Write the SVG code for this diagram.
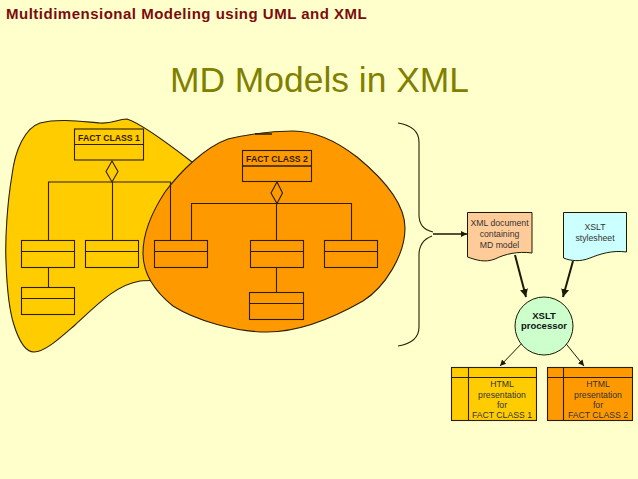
<svg xmlns="http://www.w3.org/2000/svg" width="638" height="479" viewBox="0 0 638 479">
<defs>
<marker id="a" markerUnits="userSpaceOnUse" markerWidth="9" markerHeight="9" refX="8" refY="4" orient="auto"><path d="M0 0L8 4L0 8Z" fill="#1a1a00"/></marker>
<marker id="b" markerUnits="userSpaceOnUse" markerWidth="7" markerHeight="7" refX="6" refY="3" orient="auto"><path d="M0 0L6 3L0 6Z" fill="#1a1a00"/></marker>
</defs>
<style>
text{font-family:"Liberation Sans",Arial,sans-serif}
.l{fill:none;stroke:#2a1f00;stroke-width:1.100}
.y{fill:#FFCC00;stroke:#2a1f00;stroke-width:1.100}
.o{fill:#FF9900;stroke:#2a1f00;stroke-width:1.100}
.t{font-size:8.700px;fill:#333;text-anchor:middle}
.h{font-size:8.700px;font-weight:bold;fill:#331a00;text-anchor:middle}
.p{font-size:9.500px;font-weight:bold;fill:#111;text-anchor:middle}
</style>
<rect width="638" height="479" fill="#FFFFCC"/>
<text x="6" y="19" font-size="15" letter-spacing="0.5" font-weight="bold" fill="#7a0c0c">Multidimensional Modeling using UML and XML</text>
<text x="170" y="92" font-size="35.400" fill="#808000">MD Models in XML</text>
<g id="fact-class-1-region">
<path class="y" d="M127 119C117 119 113 124 100 123C85 122 60 118 40 123C25 128 15 150 12 175C7 205 5 240 6 262C7 290 9 310 14 325C19 341 26 352 34 352C45 352 60 338 75 325C95 307 115 285 140 281C150 280 160 280 200 280L240 162L192 162C170 145 140 123 127 119Z"/>
</g>
<g id="fact-class-2-region">
<path class="o" d="M293 131C270 131 245 135 228 139C205 147 180 172 165 192C150 215 143 235 143 253C143 272 153 290 173 306C195 320 235 332 267 332C300 332 335 317 363 301C385 287 405 255 405 228C405 205 385 180 357 157C335 140 315 131 293 131Z"/>
<path d="M255 134L272 134" fill="none" stroke="#2a1f00" stroke-width="1.500"/>
</g>
<g id="connectors">
<path class="l" d="M112.500 182V240M48.500 240V182H170.500V240M48.500 267V288"/>
<path class="l" d="M276.500 203.500V240.500M191.500 240.500V203.500H351.500V240.500M276.500 267.500V292.500"/>
<path class="l" d="M398 123C410 125 419 130 419 142V215C419 225 424 230 433 232"/>
<path class="l" d="M398 346C410 344 419 339 419 327V255C419 245 424 239 432 236"/>
<path fill="none" stroke="#1a1a00" stroke-width="1.500" marker-end="url(#b)" d="M433 234H467"/>
<path fill="none" stroke="#1a1a00" stroke-width="2" marker-end="url(#a)" d="M515 255L526 297"/>
<path fill="none" stroke="#1a1a00" stroke-width="2" marker-end="url(#a)" d="M573 261L563 297"/>
<path fill="none" stroke="#1a1a00" stroke-width="1" marker-end="url(#b)" d="M525 340L500 366"/>
<path fill="none" stroke="#1a1a00" stroke-width="1" marker-end="url(#b)" d="M563 340L584 366"/>
</g>
<g id="fact-class-1">
<rect class="l" x="74.500" y="129" width="69" height="31"/><path class="l" d="M74.500 144.500H143.500"/>
<path class="y" d="M112 161L118 171.500L112 182L106 171.500Z"/>
<text class="h" x="109" y="141">FACT CLASS 1</text>
</g>
<g id="fact-class-2">
<rect class="l" x="242.500" y="150.500" width="69" height="31"/><path class="l" style="stroke-width:1.500" d="M242.500 166H311.500"/>
<path class="o" d="M277 182L282.500 193L277 203.500L271 193Z"/>
<text class="h" x="277" y="162">FACT CLASS 2</text>
</g>
<g id="c1-a"><rect class="l" x="21.500" y="240.500" width="53" height="27"/><path class="l" d="M21.500 251.500H74.500"/></g>
<g id="c1-b"><rect class="l" x="85.500" y="240.500" width="53" height="27"/><path class="l" d="M85.500 251.500H138.500"/></g>
<g id="shared"><rect class="l" x="154.500" y="240.500" width="53" height="27"/><path class="l" d="M154.500 251.500H207.500"/></g>
<g id="c1-c"><rect class="l" x="21.500" y="287.500" width="53" height="27"/><path class="l" d="M21.500 298.500H74.500"/></g>
<g id="c2-a"><rect class="l" x="250.500" y="240.500" width="53" height="27"/><path class="l" d="M250.500 251.500H303.500"/></g>
<g id="c2-b"><rect class="l" x="324.500" y="240.500" width="53" height="27"/><path class="l" d="M324.500 251.500H377.500"/></g>
<g id="c2-c"><rect class="l" x="249.500" y="292.500" width="54" height="27"/><path class="l" d="M249.500 303.500H303.500"/></g>
<g id="xml-document">
<path fill="#FFCC99" stroke="#1a1a00" d="M467.500 212.500H532V253C518 251 505 254 495 259C485 263 476 260 467.500 257Z"/>
<text class="t" x="499.500" y="226">XML document</text><text class="t" x="499.500" y="237">containing</text><text class="t" x="499.500" y="248">MD model</text>
</g>
<g id="xslt-stylesheet">
<path fill="#CCFFFF" stroke="#1a1a00" d="M563.500 212.500H626.500V252C612 250 600 254 590 258C580 262 571 261 563.500 258Z"/>
<text class="t" x="595" y="230">XSLT</text><text class="t" x="595" y="241">stylesheet</text>
</g>
<g id="xslt-processor">
<circle cx="544" cy="326" r="29" fill="#CCFFCC" stroke="#1a1a00"/>
<text class="p" x="544" y="319">XSLT</text><text class="p" x="544" y="329">processor</text>
</g>
<g id="html-1">
<rect class="y" x="451.500" y="367.500" width="85" height="53"/><path class="l" d="M451.500 377.500H536.500M468.500 367.500V420.500"/>
<text class="t" x="502" y="387">HTML</text><text class="t" x="502" y="397.500">presentation</text><text class="t" x="502" y="408">for</text><text class="t" x="502" y="418">FACT CLASS 1</text>
</g>
<g id="html-2">
<rect class="o" x="547.500" y="367.500" width="85" height="53"/><path class="l" d="M547.500 377.500H632.500M563.500 367.500V420.500"/>
<text class="t" x="598" y="387">HTML</text><text class="t" x="598" y="397.500">presentation</text><text class="t" x="598" y="408">for</text><text class="t" x="598" y="418">FACT CLASS 2</text>
</g>
</svg>
